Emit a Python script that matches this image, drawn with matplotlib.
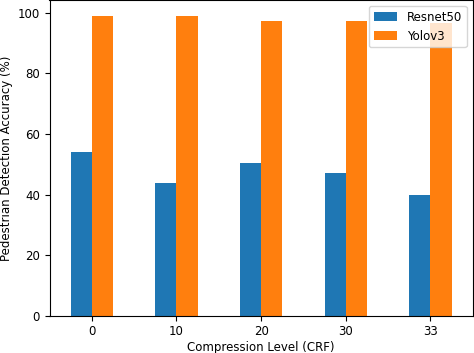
import matplotlib
matplotlib.use("Agg")
import matplotlib.pyplot as plt
import numpy as np

categories = ["0", "10", "20", "30", "33"]
resnet50 = [54.0, 43.7, 50.4, 47.0, 39.7]
yolov3 = [99.0, 99.0, 97.4, 97.4, 96.7]

plt.rcParams['font.size'] = 8.5
fig = plt.figure(figsize=(4.74, 3.53), dpi=100)
ax = fig.add_axes([49.5/474, 1-315.7/353, (472.7-49.5)/474, 315.7/353])
x = np.arange(len(categories))
w = 0.25
ax.bar(x - w/2, resnet50, w, color="#1f77b4", label="Resnet50")
ax.bar(x + w/2, yolov3, w, color="#ff7f0e", label="Yolov3")
ax.set_xticks(x)
ax.set_xticklabels(categories)
ax.set_xlim(-0.5, 4.5)
ax.set_ylim(0, 104.2)
ax.set_xlabel("Compression Level (CRF)", labelpad=2)
ax.set_ylabel("Pedestrian Detection Accuracy (%)", labelpad=3)
ax.legend(loc="upper right")
fig.savefig("out.png", dpi=100)
